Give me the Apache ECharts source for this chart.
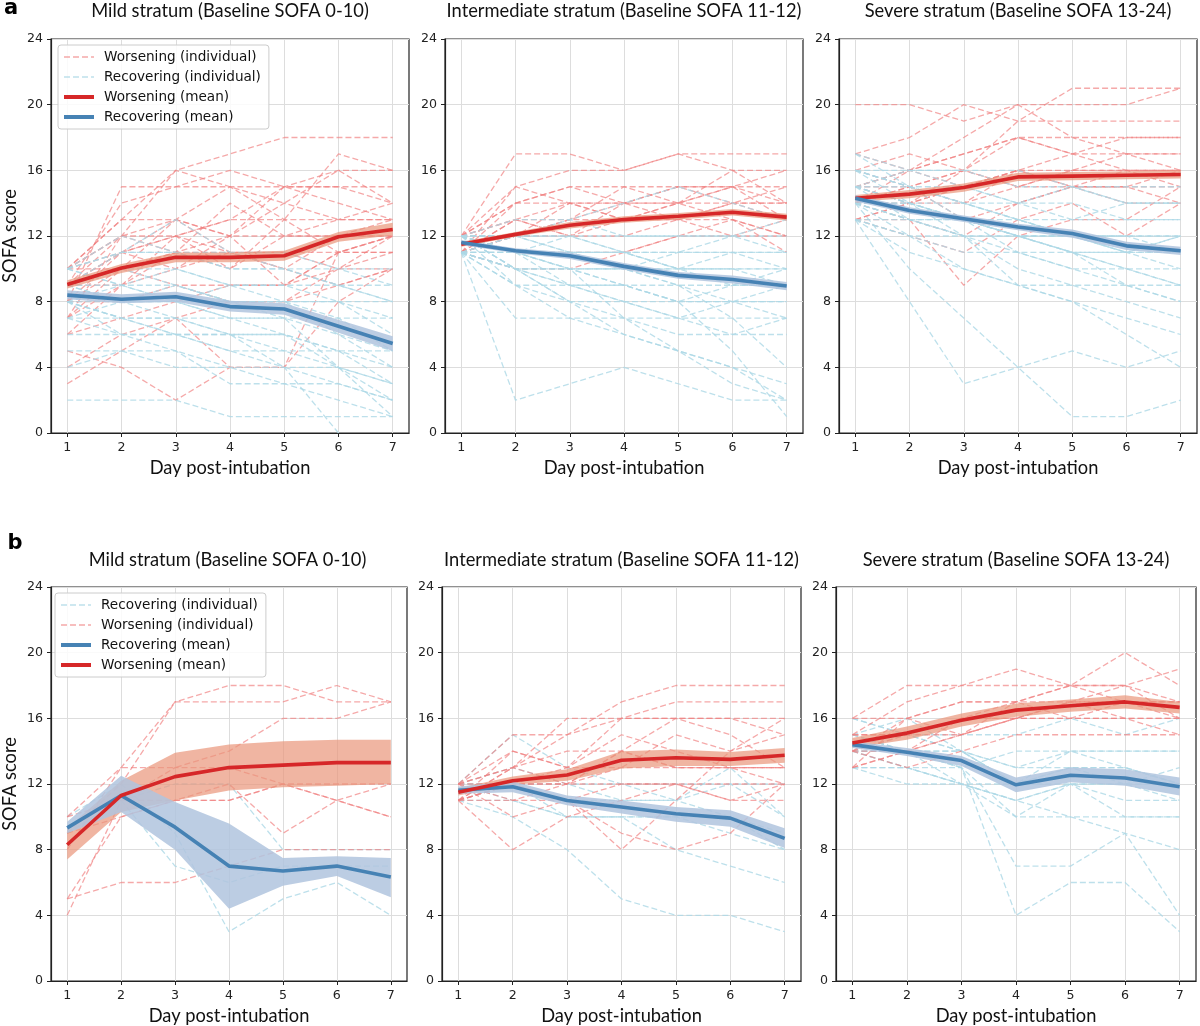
<!DOCTYPE html>
<html><head><meta charset="utf-8">
<script src="https://cdn.jsdelivr.net/npm/echarts@6/dist/echarts.min.js"></script>
<style>html,body{margin:0;padding:0;background:#fff}#c{width:1200px;height:1026px}</style>
</head><body><div id="c"></div>
<script>
// ---------- axes / labels ----------
const days = [1, 2, 3, 4, 5, 6, 7];
const yTicks = [0, 4, 8, 12, 16, 20, 24];
const panelTitles = ['Mild stratum (Baseline SOFA 0-10)', 'Intermediate stratum (Baseline SOFA 11-12)', 'Severe stratum (Baseline SOFA 13-24)'];
const xName = 'Day post-intubation';
const yName = 'SOFA score';
const legendA = ['Worsening (individual)', 'Recovering (individual)', 'Worsening (mean)', 'Recovering (mean)'];
const legendB = ['Recovering (individual)', 'Worsening (individual)', 'Recovering (mean)', 'Worsening (mean)'];

// ---------- panel a : means and bands ----------
const aMildWorseMean = [9.05, 10.05, 10.7, 10.7, 10.8, 11.95, 12.4];
const aMildWorseLo   = [8.8, 9.75, 10.4, 10.4, 10.5, 11.65, 12.05];
const aMildWorseHi   = [9.3, 10.3, 11.0, 11.0, 11.1, 12.25, 12.8];
const aMildRecMean   = [8.4, 8.15, 8.3, 7.7, 7.55, 6.5, 5.45];
const aMildRecLo     = [8.15, 7.9, 8.0, 7.4, 7.2, 6.1, 5.0];
const aMildRecHi     = [8.7, 8.45, 8.6, 8.05, 7.9, 6.9, 5.9];

const aIntWorseMean = [11.5, 12.1, 12.65, 13.0, 13.2, 13.45, 13.15];
const aIntWorseLo   = [11.35, 11.95, 12.45, 12.8, 13.0, 13.25, 12.95];
const aIntWorseHi   = [11.65, 12.25, 12.85, 13.2, 13.4, 13.65, 13.35];
const aIntRecMean   = [11.6, 11.1, 10.8, 10.15, 9.6, 9.35, 8.95];
const aIntRecLo     = [11.45, 10.95, 10.6, 9.95, 9.4, 9.1, 8.7];
const aIntRecHi     = [11.75, 11.25, 11.0, 10.35, 9.8, 9.6, 9.2];

const aSevWorseMean = [14.3, 14.55, 14.95, 15.6, 15.65, 15.7, 15.75];
const aSevWorseLo   = [14.1, 14.3, 14.7, 15.35, 15.4, 15.45, 15.5];
const aSevWorseHi   = [14.5, 14.8, 15.2, 15.85, 15.9, 15.95, 16.0];
const aSevRecMean   = [14.3, 13.55, 13.05, 12.55, 12.15, 11.4, 11.1];
const aSevRecLo     = [14.1, 13.35, 12.85, 12.35, 11.9, 11.15, 10.85];
const aSevRecHi     = [14.5, 13.75, 13.25, 12.75, 12.4, 11.65, 11.35];

// ---------- panel b : means and bands ----------
const bMildWorseMean = [8.3, 11.3, 12.45, 13.0, 13.15, 13.3, 13.3];
const bMildWorseLo   = [7.4, 10.3, 11.0, 11.6, 11.8, 11.9, 12.0];
const bMildWorseHi   = [9.3, 12.2, 13.9, 14.4, 14.6, 14.7, 14.7];
const bMildRecMean   = [9.33, 11.3, 9.37, 7.0, 6.7, 7.0, 6.34];
const bMildRecLo     = [9.0, 10.3, 8.0, 4.4, 5.8, 6.4, 5.1];
const bMildRecHi     = [9.7, 12.5, 10.9, 9.6, 7.5, 7.6, 7.5];

const bIntWorseMean = [11.5, 12.2, 12.55, 13.45, 13.6, 13.5, 13.75];
const bIntWorseLo   = [11.3, 11.95, 12.2, 12.95, 13.1, 13.1, 13.3];
const bIntWorseHi   = [11.75, 12.45, 12.9, 14.0, 14.1, 13.95, 14.2];
const bIntRecMean   = [11.62, 11.83, 11.0, 10.6, 10.19, 9.92, 8.69];
const bIntRecLo     = [11.4, 11.5, 10.7, 10.2, 9.7, 9.4, 8.1];
const bIntRecHi     = [11.85, 12.15, 11.3, 11.0, 10.6, 10.4, 9.3];

const bSevWorseMean = [14.5, 15.1, 15.88, 16.5, 16.77, 17.0, 16.67];
const bSevWorseLo   = [14.2, 14.7, 15.5, 16.1, 16.4, 16.6, 16.3];
const bSevWorseHi   = [14.8, 15.5, 16.3, 16.9, 17.15, 17.4, 17.0];
const bSevRecMean   = [14.4, 13.93, 13.43, 11.95, 12.53, 12.37, 11.83];
const bSevRecLo     = [14.2, 13.7, 13.1, 11.5, 12.1, 11.9, 11.3];
const bSevRecHi     = [14.6, 14.2, 13.7, 12.4, 13.0, 12.9, 12.4];

// ---------- individual trajectories (read approximately) ----------
const aMildWorseInd = [
  [9,12,16,17,18,18,18],[8,15,15,15,15,16,16],[10,13,16,15,14,16,14],[9,11,13,12,15,15,15],
  [7,12,13,15,13,13,14],[10,10,11,12,12,13,13],[9,9,12,10,13,11,12],[6,9,11,11,10,12,12],
  [8,11,10,11,11,10,10],[10,12,12,11,11,11,11],[7,9,10,12,9,11,12],[5,4,2,4,4,11,12],
  [6,7,8,9,9,10,11],[8,8,9,8,8,10,12],[9,10,13,11,10,9,10],[10,13,13,12,14,13,13],
  [7,10,11,10,12,12,12],[3,5,7,4,4,8,10],[9,14,15,16,15,14,13],[10,11,12,13,13,17,16],
  [8,10,9,9,9,11,11],[4,6,7,8,8,9,10],[9,11,12,13,15,15,14],[10,12,11,14,12,12,13]
];
const aMildRecInd = [
  [10,11,13,11,10,9,8],[10,12,11,10,10,9,9],[9,10,10,9,9,8,7],[9,9,8,8,7,6,5],
  [8,7,7,6,6,5,3],[9,8,9,8,8,7,5],[10,9,9,8,8,6,4],[8,6,6,6,6,4,2],
  [7,7,6,5,5,4,1],[8,7,6,5,4,0,null],[4,5,5,3,3,3,2],[2,2,2,1,1,1,1],
  [10,11,11,10,10,10,10],[9,8,8,9,9,9,8],[6,6,6,6,5,5,4],[7,8,7,6,4,3,2],
  [8,9,8,7,7,4,3],[5,5,4,4,4,4,3],[9,10,9,8,8,8,6],[8,7,7,7,7,7,7],
  [10,9,10,9,8,8,8],[7,6,5,4,3,2,1],[9,11,11,11,11,10,9],[8,8,8,7,6,5,5]
];
const aIntWorseInd = [
  [12,17,17,16,17,17,17],[11,15,16,16,17,16,16],[12,14,15,15,15,15,15],[11,13,14,14,15,14,14],
  [12,14,14,14,14,14,14],[11,12,13,14,13,13,12],[12,13,13,15,14,15,13],[11,10,10,11,12,13,11],
  [12,12,12,13,13,14,15],[11,12,14,13,14,15,14],[12,13,12,12,13,14,13],[11,14,15,14,14,13,12],
  [12,15,14,13,14,16,14],[11,12,13,13,13,12,13],[12,11,11,11,12,12,12],[11,13,12,14,15,15,16]
];
const aIntRecInd = [
  [12,12,12,12,12,12,12],[11,11,11,11,11,11,11],[12,11,11,11,10,10,10],[11,10,10,10,10,10,10],
  [12,11,10,10,9,9,9],[11,10,9,9,8,8,8],[12,10,8,8,8,8,8],[11,7,7,7,7,7,7],
  [12,9,9,9,9,8,7],[11,2,3,4,3,2,2],[12,11,10,7,6,6,6],[11,10,8,6,5,3,2],
  [12,12,11,10,9,7,4],[11,11,10,9,8,5,1],[12,13,13,12,12,12,11],[11,12,11,11,10,11,10],
  [12,10,9,8,7,6,7],[11,9,8,7,5,4,2],[12,11,12,11,11,12,13],[11,10,10,9,8,9,9],
  [12,12,13,14,15,14,13],[11,11,9,8,7,8,9],[12,10,10,10,11,11,11],[11,9,7,6,5,4,3],
  [12,11,11,10,10,9,10],[11,12,12,11,10,10,9]
];
const aSevWorseInd = [
  [20,20,19,20,20,20,21],[17,18,20,19,21,21,21],[16,17,16,19,19,19,19],[15,16,17,18,18,18,18],
  [14,15,16,18,17,17,17],[13,14,15,16,16,17,17],[14,13,12,14,15,15,16],[15,14,15,16,17,16,16],
  [13,12,11,13,14,12,14],[14,15,16,15,16,16,15],[16,15,13,14,15,16,16],[13,13,9,12,13,13,15],
  [15,16,15,16,15,14,14],[14,14,14,15,15,15,15],[17,16,17,18,17,18,18],[14,16,18,20,18,17,16],
  [13,14,16,15,16,16,16],[15,15,14,16,15,15,14]
];
const aSevRecInd = [
  [16,15,14,13,12,12,11],[15,14,13,12,11,11,10],[14,13,12,12,12,12,12],[13,12,11,11,10,10,10],
  [14,14,13,13,13,13,13],[15,15,14,14,13,14,14],[16,16,16,16,15,15,15],[13,13,12,11,11,10,9],
  [17,16,16,15,15,14,14],[14,10,7,4,1,1,2],[13,8,3,4,5,4,5],[15,14,12,9,8,7,6],
  [14,12,10,9,8,6,4],[16,15,13,12,11,10,9],[14,13,13,12,12,11,11],[13,12,12,12,11,11,12],
  [15,14,14,13,12,11,12],[14,13,12,10,9,8,7],[16,15,15,14,14,13,13],[15,16,15,14,15,14,14],
  [13,11,10,9,9,9,9],[14,14,13,12,11,9,8],[15,13,13,12,12,11,11],[16,14,13,11,10,9,8],
  [17,15,14,13,12,12,12]
];
const bMildWorseInd = [
  [10,13,17,18,18,17,17],[9,12,17,17,17,18,17],[8,13,13,14,16,16,17],[4,11,11,11,12,11,10],
  [5,6,6,7,8,8,8],[9,10,11,12,9,11,12],[10,11,13,13,12,11,10],[5,10,11,11,12,12,12]
];
const bMildRecInd = [
  [9,11,12,12,8,8,8],[10,12,9,3,5,6,4],[9,11,7,6,7,7,7]
];
const bIntWorseInd = [
  [11,13,15,17,18,18,18],[12,15,15,16,17,17,17],[11,14,13,16,16,16,15],[12,13,16,16,16,16,16],
  [11,12,12,14,13,13,12],[12,12,13,15,14,13,13],[11,11,11,12,12,11,11],[12,14,13,13,13,13,13],
  [11,8,10,11,12,11,12],[12,11,12,12,12,12,12],[11,12,11,8,11,14,16],[12,10,11,9,8,9,12],
  [11,13,14,14,13,13,13],[12,13,12,13,15,14,15],[11,12,12,14,16,15,13]
];
const bIntRecInd = [
  [12,15,13,12,11,13,10],[11,10,8,5,4,4,3],[12,11,10,10,8,7,6],[11,12,12,12,12,12,12],
  [12,12,11,11,11,10,9],[11,11,10,10,10,10,8],[12,12,10,10,10,9,8],[12,13,12,11,11,12,10]
];
const bSevWorseInd = [
  [16,18,18,19,18,20,18],[15,17,18,18,18,18,19],[14,16,17,17,18,18,17],[13,14,15,16,17,16,16],
  [16,16,15,17,17,17,16],[14,13,14,15,15,15,15],[13,14,16,16,16,16,16],[15,15,16,17,16,17,17],
  [14,14,15,16,17,18,16],[13,16,17,17,18,17,17],[15,15,15,16,16,16,15],[14,15,16,16,17,17,17]
];
const bSevRecInd = [
  [15,16,14,13,13,13,12],[14,14,14,12,13,12,11],[16,15,14,12,14,14,14],[13,13,12,11,12,12,13],
  [14,13,13,4,6,6,3],[15,14,13,7,7,9,4],[14,14,13,10,10,10,10],[13,12,12,11,10,9,8],
  [16,15,15,15,16,15,16],[14,14,14,13,14,13,12],[15,14,12,10,12,11,11],[13,13,12,12,13,13,12],
  [14,15,14,12,12,12,12],[15,14,13,14,14,14,14],[14,13,12,11,12,10,10]
];

// ---------- build ----------
const COL = {
  worseInd: 'rgba(240,128,128,0.68)', recInd: 'rgba(173,216,230,0.8)',
  worseMean: '#d62728', recMean: '#4682b4',
  worseBand: 'rgba(233,150,122,0.7)', recBand: 'rgba(176,196,222,0.85)'
};
const FONT_TICK = 'DejaVu Sans';
const FONT_TEXT = 'Lato';
const DASH = [6, 3];

const gridBoxes = [
  {left: 51, top: 39, width: 358, height: 394},
  {left: 445, top: 39, width: 358, height: 394},
  {left: 839, top: 39, width: 358, height: 394},
  {left: 48, top: 587, width: 359, height: 395},
  {left: 442, top: 587, width: 359, height: 395},
  {left: 836, top: 587, width: 360, height: 395}
];

const panels = [
  {wi: aMildWorseInd, ri: aMildRecInd, wm: aMildWorseMean, wl: aMildWorseLo, wh: aMildWorseHi, rm: aMildRecMean, rl: aMildRecLo, rh: aMildRecHi, redFirst: true},
  {wi: aIntWorseInd, ri: aIntRecInd, wm: aIntWorseMean, wl: aIntWorseLo, wh: aIntWorseHi, rm: aIntRecMean, rl: aIntRecLo, rh: aIntRecHi, redFirst: true},
  {wi: aSevWorseInd, ri: aSevRecInd, wm: aSevWorseMean, wl: aSevWorseLo, wh: aSevWorseHi, rm: aSevRecMean, rl: aSevRecLo, rh: aSevRecHi, redFirst: true},
  {wi: bMildWorseInd, ri: bMildRecInd, wm: bMildWorseMean, wl: bMildWorseLo, wh: bMildWorseHi, rm: bMildRecMean, rl: bMildRecLo, rh: bMildRecHi, redFirst: false},
  {wi: bIntWorseInd, ri: bIntRecInd, wm: bIntWorseMean, wl: bIntWorseLo, wh: bIntWorseHi, rm: bIntRecMean, rl: bIntRecLo, rh: bIntRecHi, redFirst: false},
  {wi: bSevWorseInd, ri: bSevRecInd, wm: bSevWorseMean, wl: bSevWorseLo, wh: bSevWorseHi, rm: bSevRecMean, rl: bSevRecLo, rh: bSevRecHi, redFirst: false}
];

function indSeries(gi, arr, name, color) {
  return arr.map(v => ({
    type: 'line', name, xAxisIndex: gi, yAxisIndex: gi, silent: true, animation: false,
    symbol: 'none', z: 1,
    data: days.map((d, i) => [d, v[i] == null ? '-' : v[i]]),
    lineStyle: {color, width: 1.3, type: DASH}, itemStyle: {color, opacity: 0}
  }));
}
function bandSeries(gi, lo, hi, color) {
  return {
    type: 'custom', xAxisIndex: gi, yAxisIndex: gi, silent: true, animation: false, z: 2,
    data: [[days[0], lo[0]]],
    renderItem: (p, api) => {
      const up = days.map((d, i) => api.coord([d, hi[i]]));
      const dn = days.map((d, i) => api.coord([d, lo[i]])).reverse();
      return {type: 'polygon', shape: {points: up.concat(dn)}, style: {fill: color}};
    }
  };
}
function meanSeries(gi, m, name, color) {
  return {
    type: 'line', name, xAxisIndex: gi, yAxisIndex: gi, silent: true, animation: false,
    symbol: 'none', z: 3, data: days.map((d, i) => [d, m[i]]),
    lineStyle: {color, width: 3.6}, itemStyle: {color, opacity: 0}
  };
}

const series = [];
panels.forEach((p, gi) => {
  const w = indSeries(gi, p.wi, 'Worsening (individual)', COL.worseInd);
  const r = indSeries(gi, p.ri, 'Recovering (individual)', COL.recInd);
  if (p.redFirst) { series.push(...w, ...r); } else { series.push(...r, ...w); }
  series.push(bandSeries(gi, p.wl, p.wh, COL.worseBand));
  series.push(bandSeries(gi, p.rl, p.rh, COL.recBand));
  if (p.redFirst) {
    series.push(meanSeries(gi, p.wm, 'Worsening (mean)', COL.worseMean));
    series.push(meanSeries(gi, p.rm, 'Recovering (mean)', COL.recMean));
  } else {
    series.push(meanSeries(gi, p.rm, 'Recovering (mean)', COL.recMean));
    series.push(meanSeries(gi, p.wm, 'Worsening (mean)', COL.worseMean));
  }
});

const grid = gridBoxes.map(b => Object.assign({show: true, borderColor: '#222', borderWidth: 1.2, backgroundColor: 'transparent'}, b));
const xAxis = gridBoxes.map((b, i) => ({
  type: 'value', gridIndex: i, min: 0.7, max: 7.3,
  name: xName, nameLocation: 'middle', nameGap: 26,
  nameTextStyle: {fontFamily: FONT_TEXT, fontSize: 18.3, color: '#111'},
  axisLine: {show: true, lineStyle: {color: '#222', width: 1.2}},
  axisTick: {show: true, customValues: days, length: 4, lineStyle: {color: '#222'}},
  axisLabel: {customValues: days, fontFamily: FONT_TICK, fontSize: 12.6, color: '#222', margin: 8},
  splitLine: {show: true, lineStyle: {color: '#dddddd', width: 1}}
}));
const yAxis = gridBoxes.map((b, i) => ({
  type: 'value', gridIndex: i, min: 0, max: 24, interval: 4,
  name: (i === 0 || i === 3) ? yName : '', nameLocation: 'middle', nameGap: 32,
  nameTextStyle: {fontFamily: FONT_TEXT, fontSize: 18.3, color: '#111'},
  axisLine: {show: true, lineStyle: {color: '#222', width: 1.2}},
  axisTick: {show: true, length: 4, lineStyle: {color: '#222'}},
  axisLabel: {fontFamily: FONT_TICK, fontSize: 12.6, color: '#222', margin: 8},
  splitLine: {show: true, lineStyle: {color: '#dddddd', width: 1}}
}));

function legendItem(name) {
  const isInd = name.indexOf('individual') >= 0;
  const isWorse = name.indexOf('Worsening') === 0;
  const color = isInd ? (isWorse ? COL.worseInd : COL.recInd) : (isWorse ? COL.worseMean : COL.recMean);
  return {
    name,
    itemStyle: {opacity: 0},
    lineStyle: isInd ? {color, width: 1.3, type: DASH} : {color, width: 4, type: 'solid'}
  };
}
function mkLegend(names, left, top) {
  return {
    data: names.map(legendItem), orient: 'vertical', left, top, itemWidth: 30, itemHeight: 14, itemGap: 6,
    backgroundColor: 'rgba(255,255,255,0.85)', borderColor: '#cccccc', borderWidth: 1, borderRadius: 3,
    padding: [5, 8, 5, 4], selectedMode: false,
    itemStyle: {opacity: 0},
    textStyle: {fontFamily: FONT_TICK, fontSize: 13.6, color: '#111', padding: [0, 0, 0, 5]}
  };
}

const graphic = [];
[0, 1, 2].forEach(k => {
  const a = gridBoxes[k], b = gridBoxes[k + 3];
  graphic.push({type: 'text', x: a.left + a.width / 2, y: 11, silent: true,
    style: {text: panelTitles[k], font: '18.3px ' + FONT_TEXT, fill: '#111', textAlign: 'center', textVerticalAlign: 'middle', align: 'center', verticalAlign: 'middle'}});
  graphic.push({type: 'text', x: b.left + b.width / 2, y: 560, silent: true,
    style: {text: panelTitles[k], font: '18.3px ' + FONT_TEXT, fill: '#111', textAlign: 'center', textVerticalAlign: 'middle', align: 'center', verticalAlign: 'middle'}});
});
graphic.push({type: 'text', x: 11, y: 9, silent: true, style: {text: 'a', font: 'bold 21px ' + FONT_TICK, fill: '#000', textAlign: 'center', textVerticalAlign: 'middle', align: 'center', verticalAlign: 'middle'}});
graphic.push({type: 'text', x: 15, y: 544, silent: true, style: {text: 'b', font: 'bold 21px ' + FONT_TICK, fill: '#000', textAlign: 'center', textVerticalAlign: 'middle', align: 'center', verticalAlign: 'middle'}});

const chart = echarts.init(document.getElementById('c'), null, {renderer: 'canvas'});
chart.setOption({
  animation: false,
  backgroundColor: '#fff',
  grid, xAxis, yAxis, series,
  legend: [mkLegend(legendA, 58, 45), mkLegend(legendB, 55, 593)],
  graphic
});
</script></body></html>
